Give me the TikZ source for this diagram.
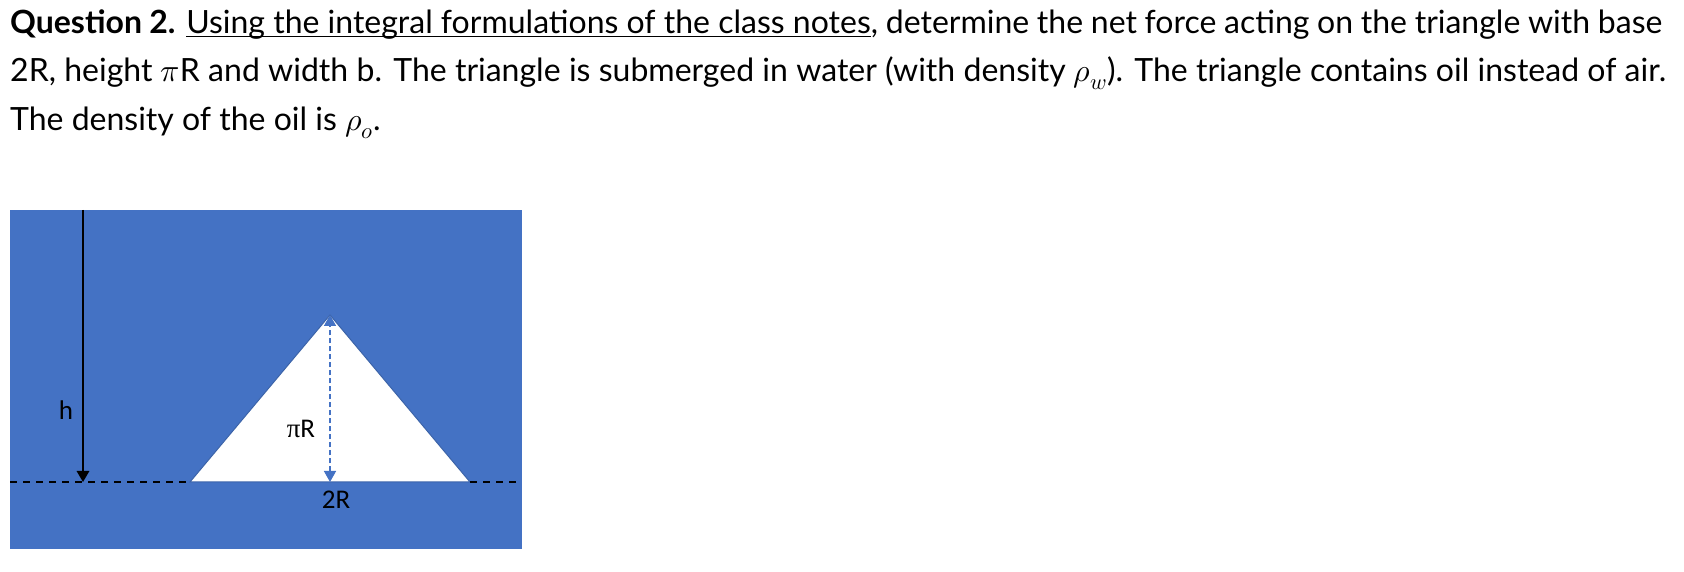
\documentclass[tikz,border=0pt]{standalone}
\usepackage{fontspec}
\usepackage{unicode-math}
\setmainfont{Lato}
\setmathfont{Latin Modern Math}
\newfontfamily\labelfont{Carlito}
\newfontfamily\greekfont{Liberation Serif}
\usetikzlibrary{arrows.meta}
\usetikzlibrary{positioning}

\definecolor{waterblue}{HTML}{4472C4}
\definecolor{edgeblue}{HTML}{3A62A8}

% underline sitting just under the baseline
\newcommand\qunder[1]{\setbox0\hbox{#1}\rlap{\rule[-3.5pt]{\wd0}{1.8pt}}\box0}

\tikzset{
  qline/.style={anchor=base west,inner sep=0pt,font=\fontsize{32}{40}\selectfont},
  lbl/.style={inner sep=0pt,font=\labelfont\fontsize{27}{30}\selectfont},
  level/.style={draw,line width=2pt,dash pattern=on 7pt off 6pt},
  harrow/.style={draw,line width=1.6pt,-{Triangle[width=12.5pt,length=11pt]}},
  dimarrow/.style={draw=waterblue,line width=1.5pt,dash pattern=on 5pt off 3pt,
    {Triangle[width=12pt,length=11pt]}-{Triangle[width=12pt,length=11pt]}},
}

\begin{document}
\begin{tikzpicture}[x=1pt,y=1pt]

  \useasboundingbox (0,0) rectangle (1684,572);

  \node [qline] (line_1) at (10,538) {\makebox[1652pt][s]{\textbf{Question 2.} \qunder{Using the integral formulations of the class notes}, determine the net force acting on the triangle with base}};
  \node [qline] (line_2) at (10,490) {\makebox[1656pt][s]{2R, height $\pi$R and width b. The triangle is submerged in water (with density $\rho_w$). The triangle contains oil instead of air.}};
  \node [qline] (line_3) at (10,441) {The density of the oil is $\rho_o$.};

  % water
  \coordinate (water_sw) at (10,23);
  \coordinate (water_ne) at (522,362);
  \fill [waterblue] (water_sw) rectangle (water_ne);

  % triangle with oil
  \coordinate (tri_left)  at (190,90);
  \coordinate (tri_right) at (470,90);
  \coordinate (tri_apex)  at (330,257);
  \coordinate (tri_base)  at (330,90);
  \filldraw [fill=white,draw=edgeblue,line width=1pt] (tri_left) -- (tri_right) -- (tri_apex) -- cycle;

  % level of the base
  \coordinate (lvl_west) at (10,90);
  \coordinate (lvl_east) at (522,90);
  \path [level] (lvl_west) -- (tri_left);
  \path [level] (tri_right) -- (lvl_east);

  \coordinate (h_top)  at (83,362);
  \coordinate (h_foot) at (83,90);
  \path [harrow] (h_top) -- (h_foot);
  \path [dimarrow] (tri_base) -- (tri_apex);

  \node [lbl] (h_lbl)    at (66,162)  {h};
  \node [lbl] (piR_lbl)  at (301,143) {{\greekfont π}R};
  \node [lbl] (base_lbl) at (336,72)  {2R};

\end{tikzpicture}
\end{document}
